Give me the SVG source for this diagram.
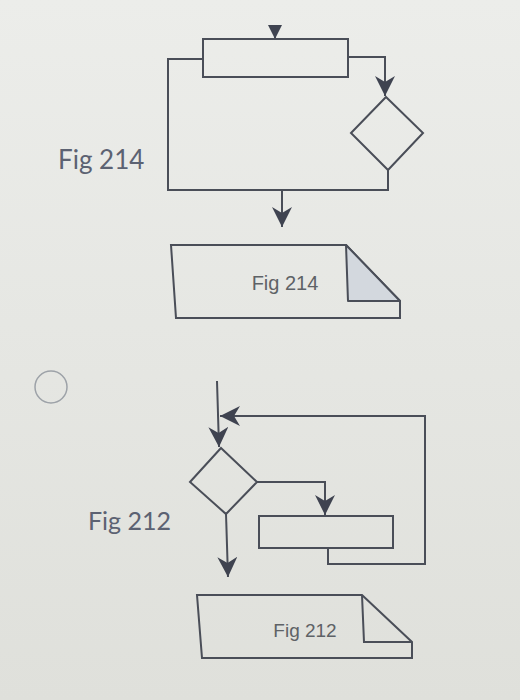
<svg xmlns="http://www.w3.org/2000/svg" width="520" height="700" viewBox="0 0 520 700">
<defs>
<linearGradient id="bg" x1="0" y1="0" x2="0" y2="1">
<stop offset="0" stop-color="#ecedea"/>
<stop offset="1" stop-color="#dfe0db"/>
</linearGradient>
<marker id="arrs" viewBox="0 0 10 10" refX="10" refY="5" markerWidth="10" markerHeight="10" orient="auto">
<path d="M0,0 L10,5 L0,10 L3,5 z" fill="#3f4350"/>
</marker>
<marker id="arrt" viewBox="0 0 10 10" refX="10" refY="5" markerWidth="7" markerHeight="7" orient="auto">
<path d="M0,0 L10,5 L0,10 z" fill="#3f4350"/>
</marker>
</defs>
<style>
.ln{fill:none;stroke:#4a4e58;stroke-width:2}
.shape{fill:none;stroke:#4a4e58;stroke-width:2}
.lbl{font-family:Lato,"Liberation Sans",sans-serif;fill:#5c6272}
.doc{font-family:"Liberation Sans",Arial,sans-serif;fill:#5e6266}
</style>
<rect width="520" height="700" fill="url(#bg)"/>

<text class="lbl" x="58" y="169" font-size="26">Fig 214</text>
<text class="lbl" x="88" y="530" font-size="25">Fig 212</text>
<circle cx="51" cy="387" r="16" fill="none" stroke="#9da2a8" stroke-width="1.5"/>

<g id="connectors">
<path class="ln" d="M275,30 L275,39" marker-end="url(#arrt)"/>
<path class="ln" d="M348,57 L385,57 L385,96" marker-end="url(#arrs)"/>
<path class="ln" d="M203,59 L168,59 L168,190 L388,190 L388,170"/>
<path class="ln" d="M282,190 L282,227" marker-end="url(#arrs)"/>
<path class="ln" d="M217,381 L219,447" marker-end="url(#arrs)"/>
<path class="ln" d="M328,548 L328,564 L425,564 L425,416 L220,416" marker-end="url(#arrs)"/>
<path class="ln" d="M257,482 L325,482 L325,515" marker-end="url(#arrs)"/>
<path class="ln" d="M226,514 L228,577" marker-end="url(#arrs)"/>
</g>

<g id="proc214">
<rect class="shape" x="203" y="39" width="145" height="38"/>
</g>
<g id="dec214">
<polygon class="shape" points="386,97 423,133 388,170 351,133"/>
</g>
<g id="doc214">
<polygon class="shape" points="171,245 346,245 400,301 400,318 176,318"/>
<polygon points="346,245 400,301 348,301" fill="#d3d8de" stroke="#4a4e58" stroke-width="2" stroke-linejoin="round"/>
<text class="doc" x="285" y="290" text-anchor="middle" font-size="20">Fig 214</text>
</g>

<g id="dec212">
<polygon class="shape" points="221,448 257,482 226,514 190,482"/>
</g>
<g id="proc212">
<rect class="shape" x="259" y="516" width="134" height="32"/>
</g>
<g id="doc212">
<polygon class="shape" points="197,595 362,595 412,642 412,658 202,658"/>
<polyline class="shape" points="362,595 364,642 412,642"/>
<text class="doc" x="305" y="637" text-anchor="middle" font-size="19">Fig 212</text>
</g>
</svg>
